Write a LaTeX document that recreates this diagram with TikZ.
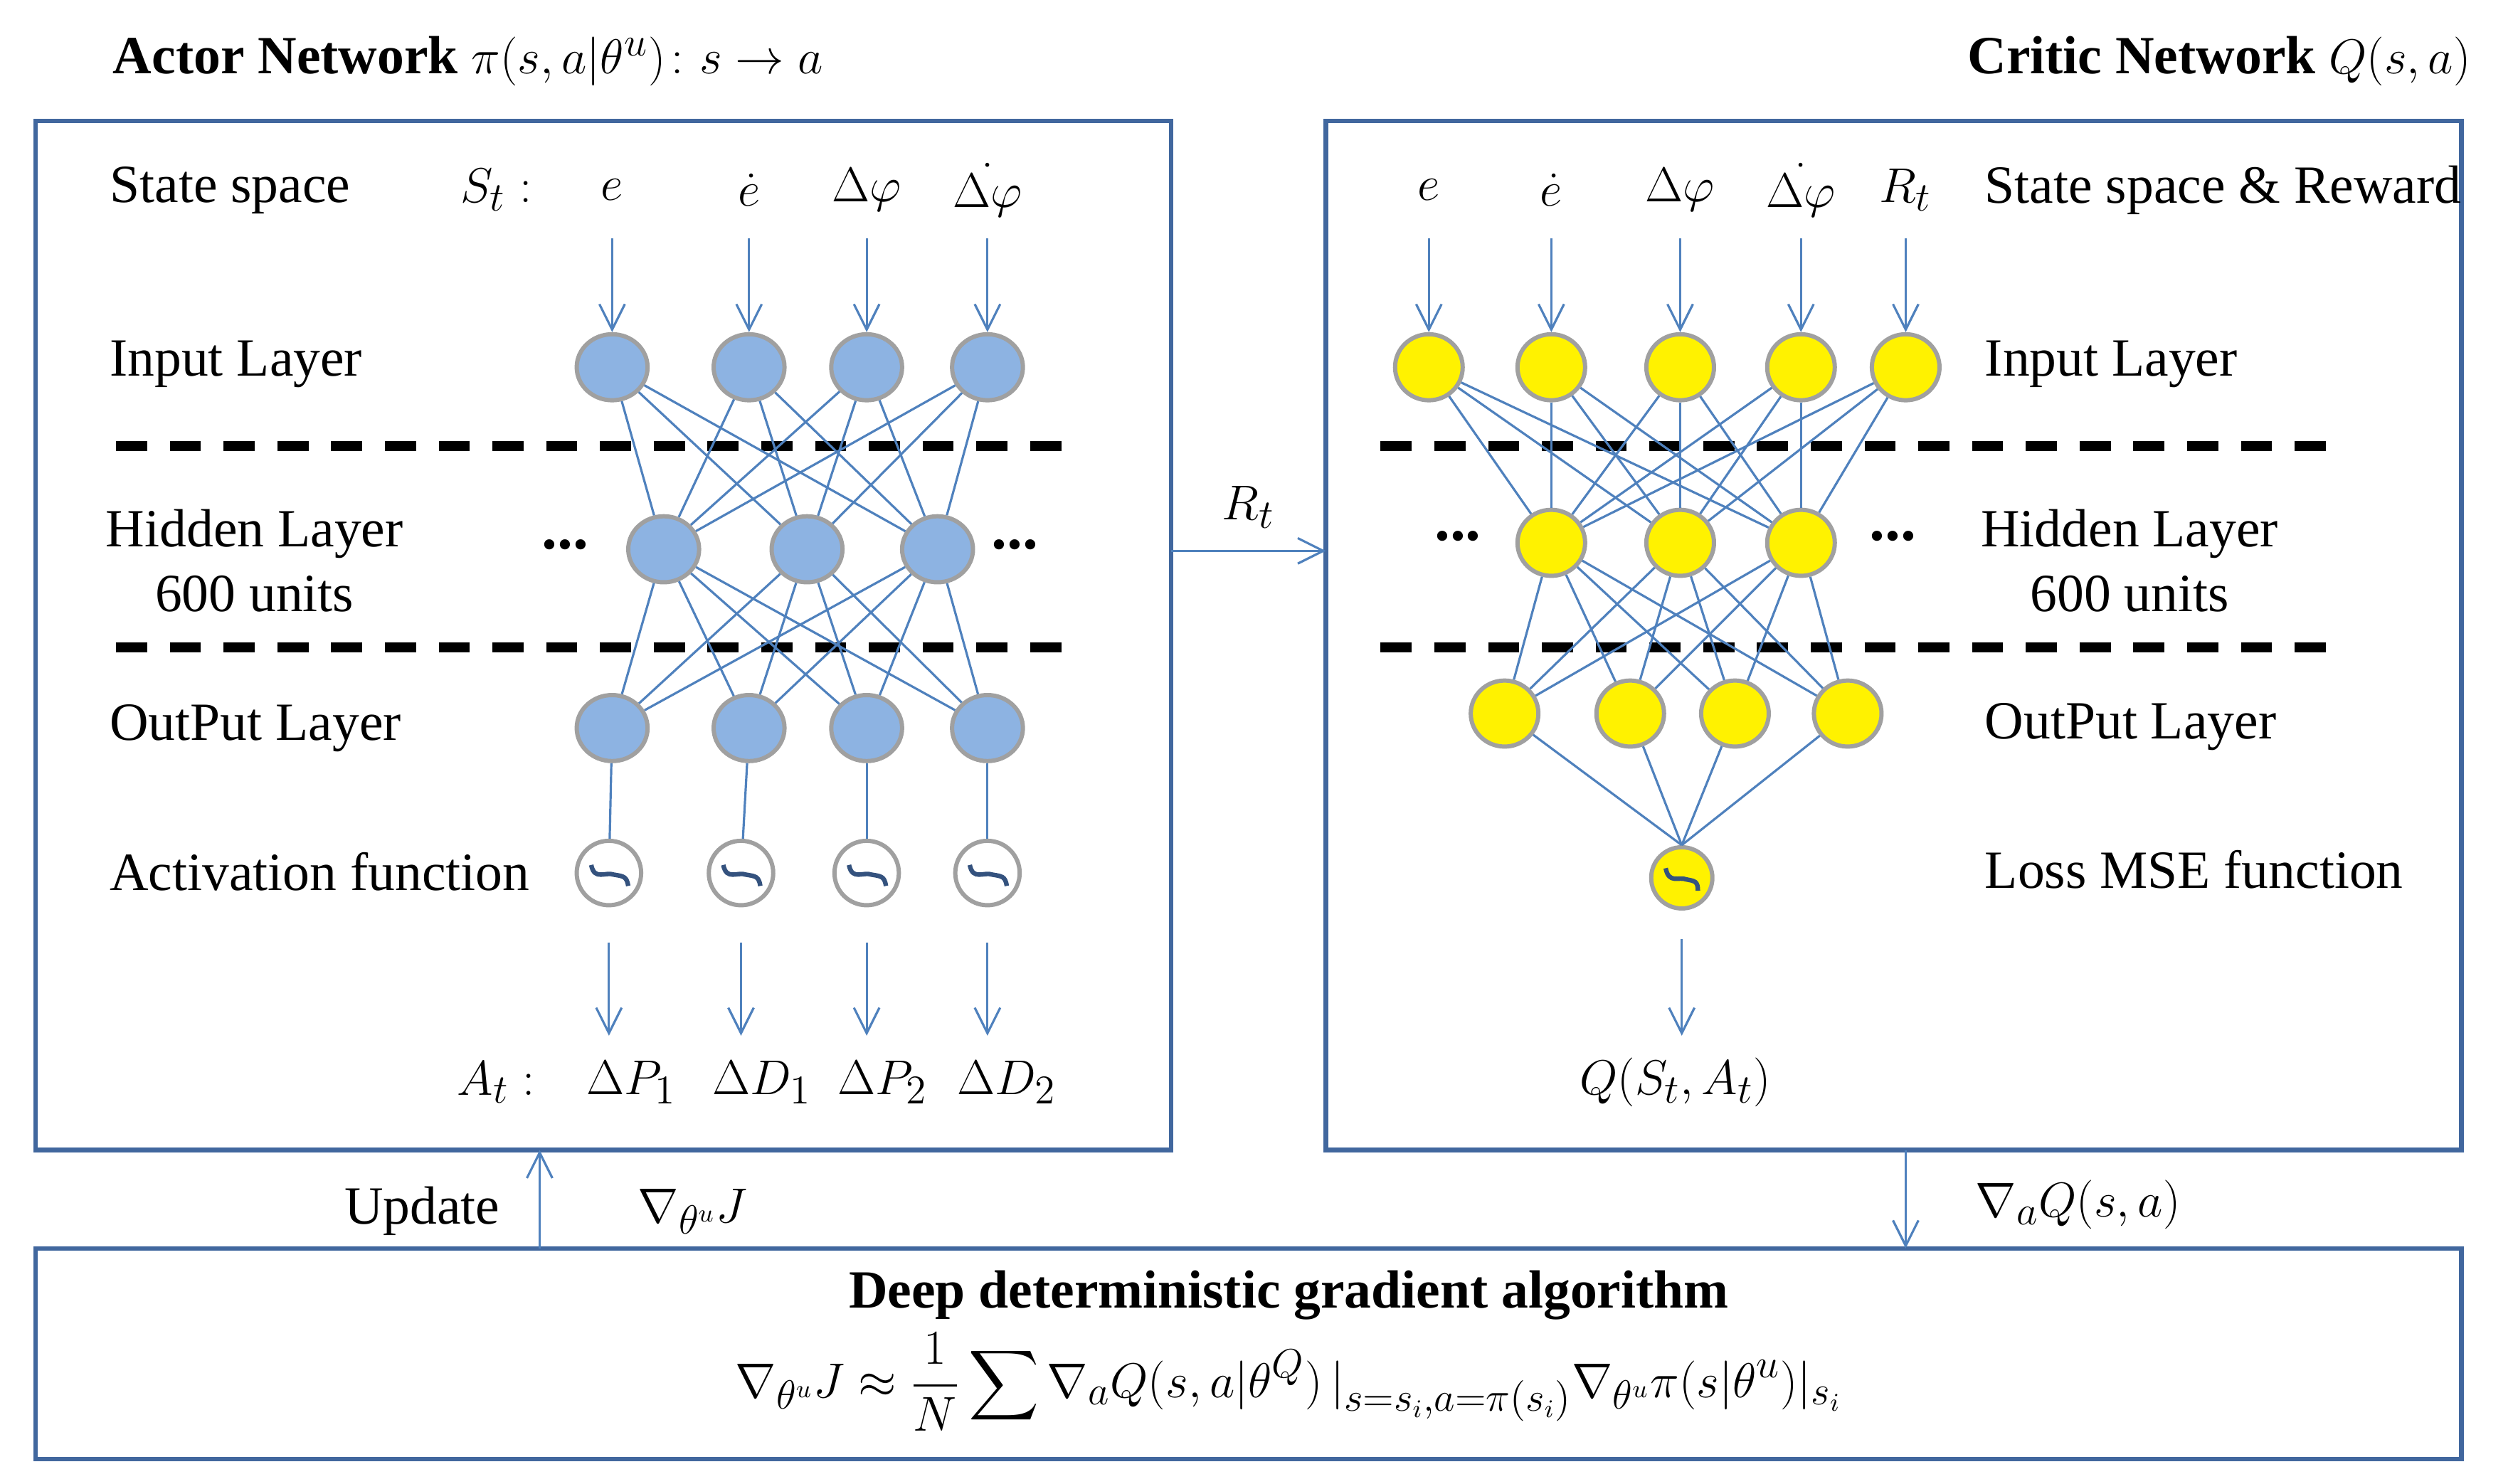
\documentclass[tikz,border=0pt]{standalone}
\usepackage{amsmath}
\usepackage{fontspec}
\setmainfont{Liberation Serif}
\usetikzlibrary{arrows.meta,shapes.geometric}
\definecolor{boxc}{HTML}{41679E}
\definecolor{linec}{HTML}{4F81BD}
\definecolor{nodeb}{HTML}{8DB3E2}
\definecolor{grayb}{HTML}{A0A0A0}
\begin{document}
\begin{tikzpicture}[x=0.02cm,y=-0.02cm,
  every node/.style={font=\fontsize{19}{23}\selectfont},
  box/.style={draw=boxc,line width=1.6pt},
  conn/.style={draw=linec,line width=0.8pt},
  arr/.style={conn,-{Straight Barb[length=9pt,width=9pt]}},
  bn/.style={ellipse,draw=grayb,line width=1.5pt,fill=nodeb,minimum width=0.88cm,minimum height=0.82cm,inner sep=0pt},
  yn/.style={ellipse,draw=grayb,line width=1.5pt,fill=yellow,minimum width=0.84cm,minimum height=0.82cm,inner sep=0pt},
  an/.style={circle,draw=grayb,line width=1.5pt,fill=white,minimum size=0.8cm,inner sep=0pt},
  layersep/.style={line width=3.6pt,dash pattern=on 11pt off 8pt},
  dots/.style={font=\fontsize{22}{22}\selectfont\bfseries}]
\useasboundingbox (0,0) rectangle (1560,921);
% titles
\node[anchor=west] (ta) at (64,38) {\textbf{Actor Network} $\pi(s,a|\theta^u)\colon s\rightarrow a$};
\node[anchor=east] (tc) at (1540,38) {\textbf{Critic Network} $Q(s,a)$};
% boxes
\draw[box] (22,75) rectangle (727,714);
\draw[box] (823,75) rectangle (1528,714);
\draw[box] (22,775) rectangle (1528,906);
% Actor labels
\node[anchor=west] at (62,118) {State space};
\node[anchor=west] at (62,226) {Input Layer};
\node[align=center] at (158,348) {Hidden Layer\\600 units};
\node[anchor=west] at (62,452) {OutPut Layer};
\node[anchor=west] at (62,541) {Activation function};
\node at (308,118) {$S_t:$};
\node at (308,672) {$A_t:$};
% actor inputs
\foreach \x/\t/\n in {380/e/1,465/\dot e/2,538/\Delta\varphi/3,613/\dot{\Delta\varphi}/4}{
  \node[inner sep=1pt] (ai\n) at (\x,118) {$\t$};
  \coordinate (ais\n) at (\x,148);
  \node[bn] (an\n) at (\x,228) {};
  \draw[arr] (ais\n) -- (an\n);
}
\foreach \x/\n in {412/1,501/2,582/3}{\node[bn] (ah\n) at (\x,341) {};}
\foreach \x/\n in {380/1,465/2,538/3,613/4}{\node[bn] (ao\n) at (\x,452) {};}
\draw[layersep] (72,277) -- (665,277);
\draw[layersep] (72,402) -- (665,402);
\node[dots] at (351,338) {...};
\node[dots] at (630,338) {...};
\foreach \i in {1,...,4}{\foreach \j in {1,2,3}{
  \draw[conn] (an\i) -- (ah\j); \draw[conn] (ah\j) -- (ao\i);}}
% activation
\foreach \x/\n/\t/\tx in {378/1/\Delta P_1/392,460/2/\Delta D_1/473,538/3/\Delta P_2/548,613/4/\Delta D_2/625}{
  \node[an] (af\n) at (\x,542) {};
  \draw[conn] (ao\n) -- (af\n);
  \draw[draw=boxc!80!black,line width=1.6pt] ([shift={(-11,-5)}]af\n.center) .. controls ([shift={(-9,5)}]af\n.center) and ([shift={(-2,-1)}]af\n.center) .. ([shift={(3,1)}]af\n.center) .. controls ([shift={(9,2)}]af\n.center) and ([shift={(11,2)}]af\n.center) .. ([shift={(12,8)}]af\n.center);
  \coordinate (afs\n) at (\x,585);
  \coordinate (afe\n) at (\x,643);
  \draw[arr] (afs\n) -- (afe\n);
  \node (out\n) at (\tx,672) {$\t$};
}
% Rt arrow
\coordinate (rs) at (727,342);
\coordinate (re) at (823,342);
\draw[arr] (rs) -- (re);
\node (rl) at (775,315) {$R_t$};
% Critic
\node[anchor=west] at (1226,118) {State space \& Reward};
\node[anchor=west] at (1226,226) {Input Layer};
\node[align=center] at (1322,348) {Hidden Layer\\600 units};
\node[anchor=west] at (1226,451) {OutPut Layer};
\node[anchor=west] at (1226,540) {Loss MSE function};
\foreach \x/\t/\n in {887/e/1,963/\dot e/2,1043/\Delta\varphi/3,1118/\dot{\Delta\varphi}/4,1183/R_t/5}{
  \node[inner sep=1pt] (ci\n) at (\x,118) {$\t$};
  \coordinate (cis\n) at (\x,148);
  \node[yn] (cn\n) at (\x,228) {};
  \draw[arr] (cis\n) -- (cn\n);
}
\foreach \x/\n in {963/1,1043/2,1118/3}{\node[yn] (ch\n) at (\x,337) {};}
\foreach \x/\n in {934/1,1012/2,1077/3,1147/4}{\node[yn] (co\n) at (\x,443) {};}
\node[yn,minimum width=0.76cm,minimum height=0.76cm] (cl) at (1044,545) {};
\draw[draw=boxc!80!black,line width=1.6pt] ([shift={(-10,-6)}]cl.center) .. controls ([shift={(-8,4)}]cl.center) and ([shift={(-2,-1)}]cl.center) .. ([shift={(3,1)}]cl.center) .. controls ([shift={(8,2)}]cl.center) and ([shift={(10,2)}]cl.center) .. ([shift={(10,8)}]cl.center);
\draw[layersep] (857,277) -- (1450,277);
\draw[layersep] (857,402) -- (1450,402);
\node[dots] at (905,333) {...};
\node[dots] at (1175,333) {...};
\foreach \i in {1,...,5}{\foreach \j in {1,2,3}{\draw[conn] (cn\i) -- (ch\j);}}
\foreach \i in {1,...,4}{\foreach \j in {1,2,3}{\draw[conn] (ch\j) -- (co\i);}
  \draw[conn] (co\i) -- (cl.north);}
\coordinate (cls) at (1044,583);
\coordinate (cle) at (1044,643);
\draw[arr] (cls) -- (cle);
\node (q) at (1040,672) {$Q(S_t,A_t)$};
% update arrows
\coordinate (us) at (335,775);
\coordinate (ue) at (335,714);
\draw[arr] (us) -- (ue);
\node (ul) at (262,752) {Update};
\node (gl) at (430,752) {$\nabla_{\theta^u}J$};
\coordinate (cs) at (1183,714);
\coordinate (ce) at (1183,775);
\draw[arr] (cs) -- (ce);
\node (ql) at (1290,748) {$\nabla_a Q(s,a)$};
% bottom
\node (bt) at (800,804) {\textbf{Deep deterministic gradient algorithm}};
\node (bf) at (800,858) {$\displaystyle \nabla_{\theta^u}J\approx\frac{1}{N}\sum\nabla_a Q(s,a|\theta^Q)\,|_{s=s_i,a=\pi(s_i)}\nabla_{\theta^u}\pi(s|\theta^u)|_{s_i}$};
\end{tikzpicture}
\end{document}
